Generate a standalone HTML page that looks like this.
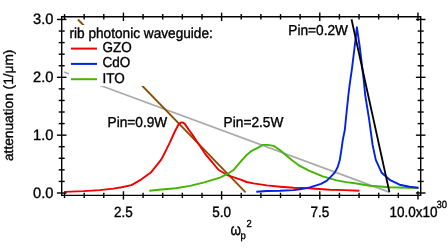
<!DOCTYPE html>
<html><head><meta charset="utf-8"><style>
html,body{margin:0;padding:0;background:#fff;}
body{width:448px;height:252px;overflow:hidden;}
svg{display:block;}
text{font-family:"Liberation Sans",Arial,sans-serif;fill:#000;text-rendering:geometricPrecision;stroke:#000;stroke-width:0.35px;}
</style></head><body>
<svg width="448" height="252" viewBox="0 0 448 252">
<rect x="0" y="0" width="448" height="252" fill="#fff"/>

<line x1="64" y1="71.96" x2="389.9" y2="192.4" stroke="#aaaaaa" stroke-width="1.7"/>
<line x1="77.96" y1="19.5" x2="245.6" y2="192.4" stroke="#8c4c00" stroke-width="1.8"/>
<polyline points="64.0,191.9 83.8,191.1 99.7,190.1 113.3,188.6 121.7,187.2 131.4,185.1 141.1,179.6 150.8,172.6 156.4,165.6 161.2,159.6 163.9,154.5 166.7,148.9 169.8,142.6 174.8,131.5 178.4,124.8 180.6,122.7 182.6,122.4 184.6,123.6 186.7,126.6 188.5,129.3 193.9,136.9 199.8,145.8 205.8,154.7 211.7,161.7 218.7,170.0 228.6,175.7 240.0,179.4 246.7,182.0 253.4,183.4 266.8,185.4 280.2,186.7 293.5,187.8 308.9,188.3 329.7,189.7 345.0,190.1 359.5,190.7" fill="none" stroke="#f00000" stroke-width="1.9" stroke-linejoin="round"/>
<polyline points="149.3,190.7 161.4,189.5 175.7,188.2 190.0,185.9 204.3,182.3 220.0,177.6 227.9,173.7 233.9,169.7 239.8,162.7 245.8,155.8 251.7,150.8 257.7,147.9 262.7,144.9 267.6,144.9 273.6,145.9 279.5,149.8 285.5,154.8 291.4,159.8 299.4,165.7 308.9,170.6 322.8,176.3 336.7,180.4 346.0,182.1 355.0,183.2 369.8,185.7 389.7,187.3 418.5,188.1" fill="none" stroke="#44b400" stroke-width="1.9" stroke-linejoin="round"/>
<polyline points="256.3,191.7 266.8,191.0 280.2,190.7 293.5,190.1 300.0,189.2 309.9,187.4 321.0,183.8 326.6,180.9 330.7,176.9 334.9,172.4 337.7,167.0 339.8,160.0 341.4,149.8 342.8,139.9 344.8,130.0 345.8,119.8 348.4,95.0 349.8,83.7 351.8,69.8 354.5,48.0 356.9,27.3 359.9,48.0 363.7,79.8 365.2,95.0 369.2,119.8 372.6,145.0 375.8,159.9 381.7,172.8 389.7,179.8 399.6,184.7 409.5,186.7 418.5,187.7" fill="none" stroke="#0022e6" stroke-width="1.9" stroke-linejoin="round"/>
<line x1="351.5" y1="19.3" x2="389.4" y2="192" stroke="#000" stroke-width="1.8"/>
<rect x="69" y="25" width="146" height="61" fill="#fff"/>
<text transform="translate(69.50,37.60) scale(1,1.060)" font-size="13.65">rib photonic waveguide:</text>
<line x1="71" y1="48.6" x2="97" y2="48.6" stroke="#f00000" stroke-width="2"/>
<text transform="translate(102.50,52.40) scale(1,1.060)" font-size="13.50">GZO</text>
<line x1="71" y1="63.9" x2="97" y2="63.9" stroke="#0022e6" stroke-width="2"/>
<text transform="translate(102.50,67.40) scale(1,1.060)" font-size="13.50">CdO</text>
<line x1="71" y1="79.2" x2="97" y2="79.2" stroke="#44b400" stroke-width="2"/>
<text transform="translate(102.50,82.50) scale(1,1.060)" font-size="13.50">ITO</text>
<text transform="translate(107.55,126.60) scale(1,1.050)" font-size="13.70">Pin=0.9W</text>
<text transform="translate(223.60,126.80) scale(1,1.050)" font-size="13.70">Pin=2.5W</text>
<text transform="translate(288.30,35.10) scale(1,1.050)" font-size="13.70">Pin=0.2W</text>
<path d="M61.7 16.8 H420.7 V195.4 H61.7 Z" stroke="#000" stroke-width="1.4" fill="none"/>
<line x1="56.9" y1="193.00" x2="66.5" y2="193.00" stroke="#000" stroke-width="1.4" fill="none"/>
<line x1="415.9" y1="193.00" x2="425.5" y2="193.00" stroke="#000" stroke-width="1.4" fill="none"/>
<text transform="translate(53.50,197.80) scale(1,1.030)" font-size="14.70" text-anchor="end">0.0</text>
<line x1="58.7" y1="181.43" x2="64.7" y2="181.43" stroke="#000" stroke-width="1.4" fill="none"/>
<line x1="417.7" y1="181.43" x2="423.7" y2="181.43" stroke="#000" stroke-width="1.4" fill="none"/>
<line x1="58.7" y1="169.86" x2="64.7" y2="169.86" stroke="#000" stroke-width="1.4" fill="none"/>
<line x1="417.7" y1="169.86" x2="423.7" y2="169.86" stroke="#000" stroke-width="1.4" fill="none"/>
<line x1="58.7" y1="158.30" x2="64.7" y2="158.30" stroke="#000" stroke-width="1.4" fill="none"/>
<line x1="417.7" y1="158.30" x2="423.7" y2="158.30" stroke="#000" stroke-width="1.4" fill="none"/>
<line x1="58.7" y1="146.73" x2="64.7" y2="146.73" stroke="#000" stroke-width="1.4" fill="none"/>
<line x1="417.7" y1="146.73" x2="423.7" y2="146.73" stroke="#000" stroke-width="1.4" fill="none"/>
<line x1="56.9" y1="135.16" x2="66.5" y2="135.16" stroke="#000" stroke-width="1.4" fill="none"/>
<line x1="415.9" y1="135.16" x2="425.5" y2="135.16" stroke="#000" stroke-width="1.4" fill="none"/>
<text transform="translate(53.50,139.96) scale(1,1.030)" font-size="14.70" text-anchor="end">1.0</text>
<line x1="58.7" y1="123.59" x2="64.7" y2="123.59" stroke="#000" stroke-width="1.4" fill="none"/>
<line x1="417.7" y1="123.59" x2="423.7" y2="123.59" stroke="#000" stroke-width="1.4" fill="none"/>
<line x1="58.7" y1="112.02" x2="64.7" y2="112.02" stroke="#000" stroke-width="1.4" fill="none"/>
<line x1="417.7" y1="112.02" x2="423.7" y2="112.02" stroke="#000" stroke-width="1.4" fill="none"/>
<line x1="58.7" y1="100.46" x2="64.7" y2="100.46" stroke="#000" stroke-width="1.4" fill="none"/>
<line x1="417.7" y1="100.46" x2="423.7" y2="100.46" stroke="#000" stroke-width="1.4" fill="none"/>
<line x1="58.7" y1="88.89" x2="64.7" y2="88.89" stroke="#000" stroke-width="1.4" fill="none"/>
<line x1="417.7" y1="88.89" x2="423.7" y2="88.89" stroke="#000" stroke-width="1.4" fill="none"/>
<line x1="56.9" y1="77.32" x2="66.5" y2="77.32" stroke="#000" stroke-width="1.4" fill="none"/>
<line x1="415.9" y1="77.32" x2="425.5" y2="77.32" stroke="#000" stroke-width="1.4" fill="none"/>
<text transform="translate(53.50,82.12) scale(1,1.030)" font-size="14.70" text-anchor="end">2.0</text>
<line x1="58.7" y1="65.75" x2="64.7" y2="65.75" stroke="#000" stroke-width="1.4" fill="none"/>
<line x1="417.7" y1="65.75" x2="423.7" y2="65.75" stroke="#000" stroke-width="1.4" fill="none"/>
<line x1="58.7" y1="54.18" x2="64.7" y2="54.18" stroke="#000" stroke-width="1.4" fill="none"/>
<line x1="417.7" y1="54.18" x2="423.7" y2="54.18" stroke="#000" stroke-width="1.4" fill="none"/>
<line x1="58.7" y1="42.62" x2="64.7" y2="42.62" stroke="#000" stroke-width="1.4" fill="none"/>
<line x1="417.7" y1="42.62" x2="423.7" y2="42.62" stroke="#000" stroke-width="1.4" fill="none"/>
<line x1="58.7" y1="31.05" x2="64.7" y2="31.05" stroke="#000" stroke-width="1.4" fill="none"/>
<line x1="417.7" y1="31.05" x2="423.7" y2="31.05" stroke="#000" stroke-width="1.4" fill="none"/>
<line x1="56.9" y1="19.48" x2="66.5" y2="19.48" stroke="#000" stroke-width="1.4" fill="none"/>
<line x1="415.9" y1="19.48" x2="425.5" y2="19.48" stroke="#000" stroke-width="1.4" fill="none"/>
<text transform="translate(53.50,24.28) scale(1,1.030)" font-size="14.70" text-anchor="end">3.0</text>
<line x1="64.53" y1="192.7" x2="64.53" y2="198.1" stroke="#000" stroke-width="1.4" fill="none"/>
<line x1="64.53" y1="14.1" x2="64.53" y2="19.5" stroke="#000" stroke-width="1.4" fill="none"/>
<line x1="84.17" y1="192.7" x2="84.17" y2="198.1" stroke="#000" stroke-width="1.4" fill="none"/>
<line x1="84.17" y1="14.1" x2="84.17" y2="19.5" stroke="#000" stroke-width="1.4" fill="none"/>
<line x1="103.80" y1="192.7" x2="103.80" y2="198.1" stroke="#000" stroke-width="1.4" fill="none"/>
<line x1="103.80" y1="14.1" x2="103.80" y2="19.5" stroke="#000" stroke-width="1.4" fill="none"/>
<line x1="123.44" y1="191.2" x2="123.44" y2="199.6" stroke="#000" stroke-width="1.4" fill="none"/>
<line x1="123.44" y1="12.6" x2="123.44" y2="21.0" stroke="#000" stroke-width="1.4" fill="none"/>
<text transform="translate(123.44,216.60) scale(1,1.100)" font-size="13.50" text-anchor="middle">2.5</text>
<line x1="143.07" y1="192.7" x2="143.07" y2="198.1" stroke="#000" stroke-width="1.4" fill="none"/>
<line x1="143.07" y1="14.1" x2="143.07" y2="19.5" stroke="#000" stroke-width="1.4" fill="none"/>
<line x1="162.71" y1="192.7" x2="162.71" y2="198.1" stroke="#000" stroke-width="1.4" fill="none"/>
<line x1="162.71" y1="14.1" x2="162.71" y2="19.5" stroke="#000" stroke-width="1.4" fill="none"/>
<line x1="182.34" y1="192.7" x2="182.34" y2="198.1" stroke="#000" stroke-width="1.4" fill="none"/>
<line x1="182.34" y1="14.1" x2="182.34" y2="19.5" stroke="#000" stroke-width="1.4" fill="none"/>
<line x1="201.98" y1="192.7" x2="201.98" y2="198.1" stroke="#000" stroke-width="1.4" fill="none"/>
<line x1="201.98" y1="14.1" x2="201.98" y2="19.5" stroke="#000" stroke-width="1.4" fill="none"/>
<line x1="221.61" y1="191.2" x2="221.61" y2="199.6" stroke="#000" stroke-width="1.4" fill="none"/>
<line x1="221.61" y1="12.6" x2="221.61" y2="21.0" stroke="#000" stroke-width="1.4" fill="none"/>
<text transform="translate(221.61,216.60) scale(1,1.100)" font-size="13.50" text-anchor="middle">5.0</text>
<line x1="241.25" y1="192.7" x2="241.25" y2="198.1" stroke="#000" stroke-width="1.4" fill="none"/>
<line x1="241.25" y1="14.1" x2="241.25" y2="19.5" stroke="#000" stroke-width="1.4" fill="none"/>
<line x1="260.88" y1="192.7" x2="260.88" y2="198.1" stroke="#000" stroke-width="1.4" fill="none"/>
<line x1="260.88" y1="14.1" x2="260.88" y2="19.5" stroke="#000" stroke-width="1.4" fill="none"/>
<line x1="280.52" y1="192.7" x2="280.52" y2="198.1" stroke="#000" stroke-width="1.4" fill="none"/>
<line x1="280.52" y1="14.1" x2="280.52" y2="19.5" stroke="#000" stroke-width="1.4" fill="none"/>
<line x1="300.15" y1="192.7" x2="300.15" y2="198.1" stroke="#000" stroke-width="1.4" fill="none"/>
<line x1="300.15" y1="14.1" x2="300.15" y2="19.5" stroke="#000" stroke-width="1.4" fill="none"/>
<line x1="319.79" y1="191.2" x2="319.79" y2="199.6" stroke="#000" stroke-width="1.4" fill="none"/>
<line x1="319.79" y1="12.6" x2="319.79" y2="21.0" stroke="#000" stroke-width="1.4" fill="none"/>
<text transform="translate(319.79,216.60) scale(1,1.100)" font-size="13.50" text-anchor="middle">7.5</text>
<line x1="339.42" y1="192.7" x2="339.42" y2="198.1" stroke="#000" stroke-width="1.4" fill="none"/>
<line x1="339.42" y1="14.1" x2="339.42" y2="19.5" stroke="#000" stroke-width="1.4" fill="none"/>
<line x1="359.06" y1="192.7" x2="359.06" y2="198.1" stroke="#000" stroke-width="1.4" fill="none"/>
<line x1="359.06" y1="14.1" x2="359.06" y2="19.5" stroke="#000" stroke-width="1.4" fill="none"/>
<line x1="378.69" y1="192.7" x2="378.69" y2="198.1" stroke="#000" stroke-width="1.4" fill="none"/>
<line x1="378.69" y1="14.1" x2="378.69" y2="19.5" stroke="#000" stroke-width="1.4" fill="none"/>
<line x1="398.33" y1="192.7" x2="398.33" y2="198.1" stroke="#000" stroke-width="1.4" fill="none"/>
<line x1="398.33" y1="14.1" x2="398.33" y2="19.5" stroke="#000" stroke-width="1.4" fill="none"/>
<line x1="417.96" y1="191.2" x2="417.96" y2="199.6" stroke="#000" stroke-width="1.4" fill="none"/>
<line x1="417.96" y1="12.6" x2="417.96" y2="21.0" stroke="#000" stroke-width="1.4" fill="none"/>
<text transform="translate(389.40,216.60) scale(1,1.100)" font-size="13.50">10.0x10</text>
<text transform="translate(436.40,208.20) scale(1,1.100)" font-size="9.50">30</text>
<text transform="translate(12.7,105.3) rotate(-90) scale(1.015,1)" font-size="13.5" text-anchor="middle">attenuation (1/μm)</text>
<text transform="translate(230.40,235.20) scale(1,1.200)" font-size="13.50">ω</text>
<text transform="translate(240.40,238.60) scale(1,1.100)" font-size="9.50">p</text>
<text transform="translate(246.60,226.70) scale(1,1.100)" font-size="9.30">2</text>
</svg></body></html>
